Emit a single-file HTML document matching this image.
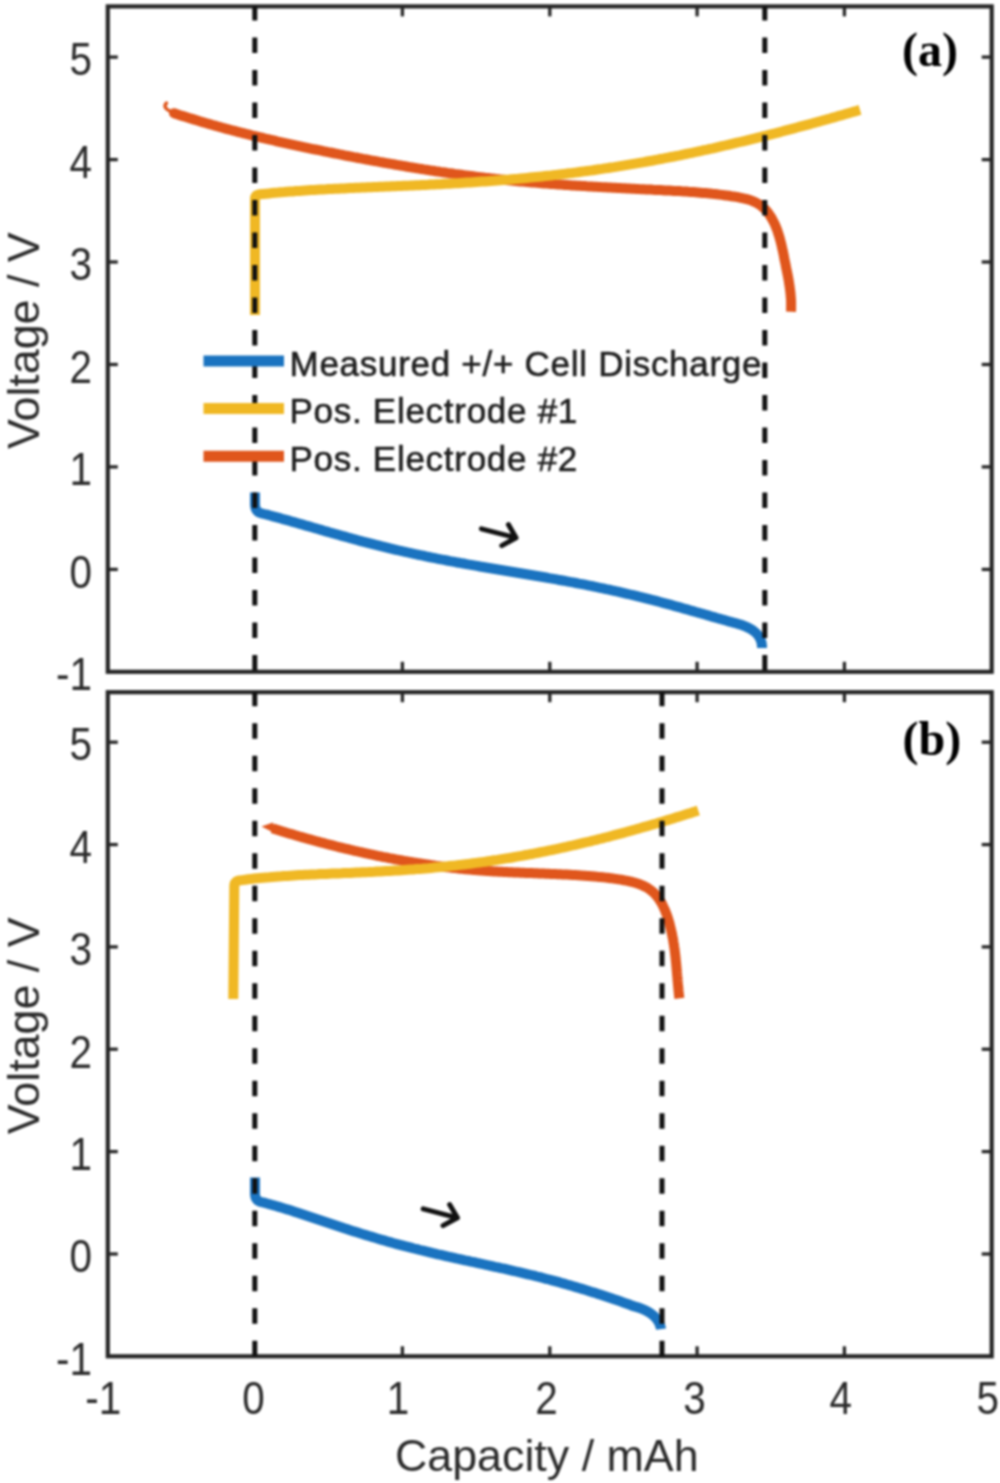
<!DOCTYPE html>
<html><head><meta charset="utf-8"><style>
html,body{margin:0;padding:0;background:#fff;width:1000px;height:1483px;overflow:hidden}
svg{display:block;filter:blur(0.9px)}
.tk{font-family:"Liberation Sans",sans-serif;font-size:40.5px;fill:#2b2b2b}
.lb{font-family:"Liberation Sans",sans-serif;font-size:44.8px;fill:#2b2b2b}
.lg{font-family:"Liberation Sans",sans-serif;font-size:35px;letter-spacing:0.72px;fill:#1e1e1e;stroke:#1e1e1e;stroke-width:0.6px}
.pl{font-family:"Liberation Serif",serif;font-size:48px;font-weight:bold;fill:#000}
</style></head><body>
<svg width="1000" height="1483" viewBox="0 0 1000 1483">
<rect width="1000" height="1483" fill="#fff"/>
<rect x="107.8" y="6.4" width="883.9" height="665.4" fill="none" stroke="#262626" stroke-width="4.2"/>
<line x1="255.1" y1="671.8" x2="255.1" y2="661.8" stroke="#262626" stroke-width="3.3"/>
<line x1="255.1" y1="6.4" x2="255.1" y2="16.4" stroke="#262626" stroke-width="3.3"/>
<line x1="402.4" y1="671.8" x2="402.4" y2="661.8" stroke="#262626" stroke-width="3.3"/>
<line x1="402.4" y1="6.4" x2="402.4" y2="16.4" stroke="#262626" stroke-width="3.3"/>
<line x1="549.8" y1="671.8" x2="549.8" y2="661.8" stroke="#262626" stroke-width="3.3"/>
<line x1="549.8" y1="6.4" x2="549.8" y2="16.4" stroke="#262626" stroke-width="3.3"/>
<line x1="697.1" y1="671.8" x2="697.1" y2="661.8" stroke="#262626" stroke-width="3.3"/>
<line x1="697.1" y1="6.4" x2="697.1" y2="16.4" stroke="#262626" stroke-width="3.3"/>
<line x1="844.4" y1="671.8" x2="844.4" y2="661.8" stroke="#262626" stroke-width="3.3"/>
<line x1="844.4" y1="6.4" x2="844.4" y2="16.4" stroke="#262626" stroke-width="3.3"/>
<line x1="107.8" y1="569.4" x2="117.8" y2="569.4" stroke="#262626" stroke-width="3.3"/>
<line x1="991.7" y1="569.4" x2="981.7" y2="569.4" stroke="#262626" stroke-width="3.3"/>
<line x1="107.8" y1="466.9" x2="117.8" y2="466.9" stroke="#262626" stroke-width="3.3"/>
<line x1="991.7" y1="466.9" x2="981.7" y2="466.9" stroke="#262626" stroke-width="3.3"/>
<line x1="107.8" y1="364.5" x2="117.8" y2="364.5" stroke="#262626" stroke-width="3.3"/>
<line x1="991.7" y1="364.5" x2="981.7" y2="364.5" stroke="#262626" stroke-width="3.3"/>
<line x1="107.8" y1="262.0" x2="117.8" y2="262.0" stroke="#262626" stroke-width="3.3"/>
<line x1="991.7" y1="262.0" x2="981.7" y2="262.0" stroke="#262626" stroke-width="3.3"/>
<line x1="107.8" y1="159.6" x2="117.8" y2="159.6" stroke="#262626" stroke-width="3.3"/>
<line x1="991.7" y1="159.6" x2="981.7" y2="159.6" stroke="#262626" stroke-width="3.3"/>
<line x1="107.8" y1="57.1" x2="117.8" y2="57.1" stroke="#262626" stroke-width="3.3"/>
<line x1="991.7" y1="57.1" x2="981.7" y2="57.1" stroke="#262626" stroke-width="3.3"/>
<text transform="translate(92,690.0) scale(1,1.12)" text-anchor="end" class="tk">-1</text>
<text transform="translate(92,587.6) scale(1,1.12)" text-anchor="end" class="tk">0</text>
<text transform="translate(92,485.1) scale(1,1.12)" text-anchor="end" class="tk">1</text>
<text transform="translate(92,382.7) scale(1,1.12)" text-anchor="end" class="tk">2</text>
<text transform="translate(92,280.2) scale(1,1.12)" text-anchor="end" class="tk">3</text>
<text transform="translate(92,177.8) scale(1,1.12)" text-anchor="end" class="tk">4</text>
<text transform="translate(92,75.3) scale(1,1.12)" text-anchor="end" class="tk">5</text>
<text transform="translate(38.5,340.6) rotate(-90)" text-anchor="middle" class="lb">Voltage / V</text>
<path d="M174.0,113.2 L176.2,113.9 L178.5,114.7 L180.7,115.4 L183.0,116.1 L185.3,116.8 L187.5,117.5 L189.8,118.2 L192.1,118.9 L194.4,119.6 L196.6,120.3 L198.9,121.0 L201.2,121.7 L203.5,122.4 L205.7,123.0 L208.0,123.7 L210.3,124.3 L212.6,125.0 L214.9,125.6 L217.2,126.3 L219.4,126.9 L221.7,127.5 L224.0,128.2 L226.3,128.8 L228.6,129.4 L230.9,130.0 L233.2,130.6 L235.5,131.2 L237.8,131.8 L240.1,132.4 L242.4,133.0 L244.7,133.5 L247.0,134.1 L249.3,134.7 L251.6,135.3 L253.9,135.8 L256.2,136.4 L258.5,136.9 L260.8,137.5 L263.1,138.0 L265.4,138.6 L267.8,139.1 L270.1,139.7 L272.4,140.2 L274.7,140.7 L277.0,141.3 L279.3,141.8 L281.6,142.3 L284.0,142.8 L286.3,143.3 L288.6,143.8 L290.9,144.3 L293.2,144.8 L295.6,145.3 L297.9,145.8 L300.2,146.3 L302.5,146.8 L304.8,147.3 L307.2,147.8 L309.5,148.3 L311.8,148.8 L314.1,149.3 L316.5,149.7 L318.8,150.2 L321.1,150.7 L323.4,151.2 L325.8,151.6 L328.1,152.1 L330.4,152.5 L332.8,153.0 L335.1,153.5 L337.4,153.9 L339.7,154.4 L342.1,154.8 L344.4,155.3 L346.7,155.8 L349.1,156.2 L351.4,156.6 L353.7,157.1 L356.1,157.5 L358.4,158.0 L360.7,158.4 L363.1,158.9 L365.4,159.3 L367.7,159.7 L370.1,160.2 L372.4,160.6 L374.7,161.0 L377.1,161.4 L379.4,161.9 L381.8,162.3 L384.1,162.7 L386.4,163.1 L388.8,163.5 L391.1,163.9 L393.4,164.3 L395.8,164.7 L398.1,165.1 L400.5,165.5 L402.8,165.9 L405.1,166.3 L407.5,166.7 L409.8,167.1 L412.2,167.5 L414.5,167.9 L416.9,168.3 L419.2,168.6 L421.5,169.0 L423.9,169.4 L426.2,169.7 L428.6,170.1 L430.9,170.5 L433.3,170.8 L435.6,171.2 L438.0,171.5 L440.3,171.9 L442.7,172.2 L445.0,172.5 L447.4,172.9 L449.7,173.2 L452.1,173.5 L454.4,173.9 L456.8,174.2 L459.1,174.5 L461.5,174.8 L463.8,175.1 L466.2,175.4 L468.5,175.7 L470.9,176.0 L473.2,176.3 L475.6,176.6 L478.0,176.9 L480.3,177.2 L482.7,177.5 L485.0,177.8 L487.4,178.0 L489.7,178.3 L492.1,178.6 L494.5,178.8 L496.8,179.1 L499.2,179.3 L501.5,179.6 L503.9,179.8 L506.3,180.0 L508.6,180.3 L511.0,180.5 L513.4,180.7 L515.7,181.0 L518.1,181.2 L520.4,181.4 L522.8,181.6 L525.2,181.8 L527.5,182.0 L529.9,182.2 L532.3,182.4 L534.6,182.6 L537.0,182.8 L539.4,183.0 L541.7,183.2 L544.1,183.4 L546.5,183.6 L548.9,183.7 L551.2,183.9 L553.6,184.1 L556.0,184.3 L558.3,184.4 L560.7,184.6 L563.1,184.7 L565.4,184.9 L567.8,185.1 L570.2,185.2 L572.5,185.4 L574.9,185.5 L577.3,185.7 L579.7,185.8 L582.0,186.0 L584.4,186.1 L586.8,186.3 L589.1,186.4 L591.5,186.5 L593.9,186.7 L596.3,186.8 L598.6,186.9 L601.0,187.1 L603.4,187.2 L605.7,187.3 L608.1,187.5 L610.5,187.6 L612.8,187.7 L615.2,187.8 L617.6,188.0 L620.0,188.1 L622.3,188.2 L624.7,188.3 L627.1,188.5 L629.4,188.6 L631.8,188.7 L634.2,188.8 L636.5,188.9 L638.9,189.1 L641.3,189.2 L643.6,189.3 L646.0,189.4 L648.4,189.5 L650.7,189.6 L653.1,189.8 L655.5,189.9 L657.8,190.0 L660.2,190.1 L662.6,190.2 L664.9,190.4 L667.3,190.5 L669.7,190.6 L672.0,190.7 L674.4,190.9 L676.8,191.0 L679.1,191.1 L681.5,191.3 L683.9,191.4 L686.2,191.6 L688.6,191.8 L691.0,191.9 L693.3,192.1 L695.7,192.3 L698.1,192.5 L700.4,192.7 L702.8,192.9 L705.2,193.1 L707.6,193.3 L709.9,193.5 L712.3,193.8 L714.7,194.0 L717.1,194.3 L719.5,194.6 L721.9,194.9 L724.3,195.2 L726.6,195.5 L729.0,195.8 L731.4,196.2 L733.8,196.5 L736.2,196.9 L738.6,197.3 L741.0,197.8 L743.3,198.3 L745.6,198.8 L747.9,199.4 L750.1,200.1 L752.2,200.9 L754.3,201.8 L756.4,202.8 L758.3,203.8 L760.2,205.1 L761.9,206.4 L763.6,207.9 L765.2,209.4 L766.7,211.1 L768.1,212.8 L769.4,214.7 L770.7,216.6 L771.9,218.6 L773.0,220.7 L774.1,222.8 L775.1,224.9 L776.0,227.1 L776.9,229.4 L777.7,231.7 L778.4,234.0 L779.2,236.3 L779.8,238.7 L780.5,241.1 L781.1,243.5 L781.7,245.9 L782.2,248.4 L782.8,250.8 L783.3,253.2 L783.8,255.6 L784.2,258.0 L784.7,260.4 L785.2,262.8 L785.7,265.1 L786.1,267.5 L786.6,269.8 L787.1,272.1 L787.5,274.3 L788.0,276.6 L788.4,278.9 L788.8,281.1 L789.1,283.4 L789.5,285.7 L789.8,287.9 L790.1,290.2 L790.4,292.5 L790.6,294.8 L790.8,297.2 L791.0,299.5 L791.1,301.9 L791.1,304.3 L791.1,306.7 L791.1,309.2 L791.0,311.7" fill="none" stroke="#e0561c" stroke-width="10" stroke-linecap="butt" stroke-linejoin="round"/>
<circle cx="174.0" cy="113.2" r="5.0" fill="#e0561c"/>
<path d="M171,111.5 C165,109 163.5,106 166.5,103" fill="none" stroke="#e0561c" stroke-width="3.5" stroke-linecap="round"/>
<path d="M255.0,315.0 L255.0,198.5 L255.1,197.6 L255.3,196.9 L255.7,196.2 L256.2,195.6 L257.0,195.1 L257.8,194.8 L258.8,194.5 L260.0,194.3 L263.0,194.0 L266.0,193.7 L269.0,193.4 L272.0,193.1 L275.0,192.8 L278.0,192.6 L281.0,192.3 L284.0,192.1 L287.0,191.8 L290.0,191.6 L293.0,191.4 L296.0,191.1 L299.0,190.9 L302.0,190.7 L305.0,190.5 L308.0,190.3 L311.0,190.1 L314.0,190.0 L317.0,189.8 L320.0,189.6 L323.0,189.4 L326.0,189.3 L329.0,189.1 L332.0,189.0 L335.0,188.8 L338.0,188.7 L341.0,188.5 L344.0,188.4 L347.0,188.2 L350.0,188.1 L353.0,188.0 L356.0,187.8 L359.0,187.7 L362.0,187.6 L365.0,187.5 L368.0,187.3 L371.0,187.2 L374.0,187.1 L377.0,187.0 L380.0,186.8 L383.0,186.7 L386.0,186.6 L389.0,186.5 L392.0,186.3 L395.0,186.2 L398.0,186.1 L401.0,186.0 L404.0,185.8 L407.0,185.7 L410.0,185.6 L413.0,185.4 L416.0,185.3 L419.0,185.2 L422.0,185.0 L425.0,184.9 L428.0,184.8 L431.0,184.6 L434.0,184.5 L437.0,184.3 L440.0,184.2 L443.0,184.0 L446.0,183.8 L449.0,183.7 L452.0,183.5 L455.0,183.3 L458.0,183.2 L461.0,183.0 L464.0,182.8 L467.0,182.6 L470.0,182.4 L473.0,182.2 L476.0,182.0 L479.0,181.8 L482.0,181.6 L485.0,181.4 L488.0,181.2 L491.0,181.0 L494.0,180.8 L497.0,180.5 L500.0,180.3 L503.0,180.1 L506.0,179.8 L509.0,179.6 L512.0,179.3 L515.0,179.0 L518.0,178.8 L521.0,178.5 L524.0,178.2 L527.0,177.9 L530.0,177.6 L533.0,177.3 L536.0,177.0 L539.0,176.7 L542.0,176.4 L545.0,176.1 L548.0,175.8 L551.0,175.5 L554.0,175.1 L557.0,174.8 L560.0,174.4 L563.0,174.1 L566.0,173.7 L569.0,173.3 L572.0,173.0 L575.0,172.6 L578.0,172.2 L581.0,171.8 L584.0,171.4 L587.0,171.0 L590.0,170.6 L593.0,170.2 L596.0,169.7 L599.0,169.3 L602.0,168.9 L605.0,168.4 L608.0,168.0 L611.0,167.5 L614.0,167.1 L617.0,166.6 L620.0,166.1 L623.0,165.6 L626.0,165.1 L629.0,164.6 L632.0,164.1 L635.0,163.6 L638.0,163.1 L641.0,162.6 L644.0,162.1 L647.0,161.5 L650.0,161.0 L653.0,160.5 L656.0,159.9 L659.0,159.3 L662.0,158.8 L665.0,158.2 L668.0,157.6 L671.0,157.0 L674.0,156.5 L677.0,155.9 L680.0,155.3 L683.0,154.6 L686.0,154.0 L689.0,153.4 L692.0,152.8 L695.0,152.2 L698.0,151.5 L701.0,150.9 L704.0,150.2 L707.0,149.6 L710.0,148.9 L713.0,148.3 L716.0,147.6 L719.0,146.9 L722.0,146.2 L725.0,145.5 L728.0,144.8 L731.0,144.1 L734.0,143.4 L737.0,142.7 L740.0,142.0 L743.0,141.3 L746.0,140.6 L749.0,139.8 L752.0,139.1 L755.0,138.4 L758.0,137.6 L761.0,136.9 L764.0,136.1 L767.0,135.4 L770.0,134.6 L773.0,133.8 L776.0,133.1 L779.0,132.3 L782.0,131.5 L785.0,130.7 L788.0,129.9 L791.0,129.1 L794.0,128.3 L797.0,127.5 L800.0,126.7 L803.0,125.9 L806.0,125.1 L809.0,124.3 L812.0,123.5 L815.0,122.7 L818.0,121.8 L821.0,121.0 L824.0,120.2 L827.0,119.3 L830.0,118.5 L833.0,117.6 L836.0,116.8 L839.0,115.9 L842.0,115.1 L845.0,114.2 L848.0,113.4 L851.0,112.5 L854.0,111.6 L857.0,110.8 L860.0,109.9" fill="none" stroke="#f0b824" stroke-width="10" stroke-linecap="butt" stroke-linejoin="round"/>
<path d="M255.0,492.5 L255.0,504.0 L255.1,505.8 L255.4,507.5 L255.8,508.9 L256.5,510.2 L257.3,511.2 L258.4,512.1 L259.6,512.8 L261.0,513.2 L264.0,514.0 L267.0,514.7 L270.0,515.5 L273.0,516.3 L276.0,517.1 L279.0,517.9 L282.0,518.8 L285.0,519.6 L288.0,520.4 L291.0,521.3 L294.0,522.1 L297.0,523.0 L300.0,523.9 L303.0,524.7 L306.0,525.6 L309.0,526.4 L312.0,527.3 L315.0,528.2 L318.0,529.0 L321.0,529.9 L324.0,530.8 L327.0,531.6 L330.0,532.5 L333.0,533.3 L336.0,534.2 L339.0,535.0 L342.0,535.9 L345.0,536.7 L348.0,537.5 L351.0,538.3 L354.0,539.2 L357.0,540.0 L360.0,540.8 L363.0,541.6 L366.0,542.3 L369.0,543.1 L372.0,543.9 L375.0,544.7 L378.0,545.4 L381.0,546.2 L384.0,546.9 L387.0,547.6 L390.0,548.4 L393.0,549.1 L396.0,549.8 L399.0,550.5 L402.0,551.2 L405.0,551.8 L408.0,552.5 L411.0,553.2 L414.0,553.8 L417.0,554.5 L420.0,555.1 L423.0,555.7 L426.0,556.4 L429.0,557.0 L432.0,557.6 L435.0,558.2 L438.0,558.8 L441.0,559.4 L444.0,559.9 L447.0,560.5 L450.0,561.1 L453.0,561.6 L456.0,562.2 L459.0,562.7 L462.0,563.3 L465.0,563.8 L468.0,564.4 L471.0,564.9 L474.0,565.4 L477.0,565.9 L480.0,566.5 L483.0,567.0 L486.0,567.5 L489.0,568.0 L492.0,568.5 L495.0,569.0 L498.0,569.5 L501.0,570.0 L504.0,570.5 L507.0,571.0 L510.0,571.5 L513.0,572.0 L516.0,572.5 L519.0,573.0 L522.0,573.5 L525.0,574.0 L528.0,574.5 L531.0,575.0 L534.0,575.5 L537.0,576.0 L540.0,576.5 L543.0,577.0 L546.0,577.5 L549.0,578.1 L552.0,578.6 L555.0,579.1 L558.0,579.7 L561.0,580.2 L564.0,580.7 L567.0,581.3 L570.0,581.9 L573.0,582.4 L576.0,583.0 L579.0,583.6 L582.0,584.1 L585.0,584.7 L588.0,585.3 L591.0,585.9 L594.0,586.5 L597.0,587.2 L600.0,587.8 L603.0,588.4 L606.0,589.1 L609.0,589.7 L612.0,590.4 L615.0,591.0 L618.0,591.7 L621.0,592.4 L624.0,593.1 L627.0,593.8 L630.0,594.5 L633.0,595.2 L636.0,595.9 L639.0,596.7 L642.0,597.4 L645.0,598.1 L648.0,598.9 L651.0,599.7 L654.0,600.4 L657.0,601.2 L660.0,602.0 L663.0,602.8 L666.0,603.6 L669.0,604.4 L672.0,605.2 L675.0,606.1 L678.0,606.9 L681.0,607.7 L684.0,608.6 L687.0,609.4 L690.0,610.3 L693.0,611.1 L696.0,612.0 L699.0,612.8 L702.0,613.7 L705.0,614.5 L708.0,615.4 L711.0,616.3 L714.0,617.1 L717.0,618.0 L720.0,618.8 L723.0,619.7 L726.0,620.5 L729.1,621.5 L729.8,621.7 L730.5,621.8 L731.2,622.0 L732.0,622.2 L732.7,622.4 L733.4,622.6 L734.2,622.8 L734.9,623.0 L735.7,623.2 L736.5,623.4 L737.2,623.6 L738.0,623.8 L738.8,624.0 L739.5,624.3 L740.3,624.5 L741.1,624.8 L741.8,625.0 L742.6,625.3 L743.3,625.6 L744.1,625.8 L744.8,626.1 L745.6,626.4 L746.3,626.8 L747.0,627.1 L747.7,627.4 L748.4,627.8 L749.1,628.1 L749.8,628.5 L750.5,628.9 L751.2,629.3 L751.8,629.7 L752.5,630.1 L753.1,630.6 L753.7,631.0 L754.3,631.5 L754.9,632.0 L755.5,632.5 L756.0,633.0 L756.5,633.5 L757.0,634.0 L757.5,634.6 L758.0,635.2 L758.4,635.8 L758.9,636.4 L759.3,637.0 L759.6,637.7 L760.0,638.4 L760.3,639.0 L760.6,639.8 L760.9,640.5 L761.1,641.2 L761.4,642.0 L761.5,642.8 L761.7,643.6 L761.8,644.4 L761.9,645.3 L762.0,646.2 L762.0,647.1 L762.0,648.0" fill="none" stroke="#1a73c0" stroke-width="10" stroke-linecap="butt" stroke-linejoin="round"/>
<line x1="254.8" y1="6.4" x2="254.8" y2="671.8" stroke="#111" stroke-width="5" stroke-dasharray="15.5 17" stroke-dashoffset="1.5"/>
<line x1="764.8" y1="6.4" x2="764.8" y2="671.8" stroke="#111" stroke-width="5" stroke-dasharray="15.5 17" stroke-dashoffset="1.5"/>
<path d="M481.4,528.8 L516,537.8 M508.4,524.6 L516,537.8 L501.8,545.6" fill="none" stroke="#111" stroke-width="5" stroke-linecap="round" stroke-linejoin="round"/>
<line x1="203.5" y1="361.0" x2="284" y2="361.0" stroke="#1a73c0" stroke-width="11"/>
<text x="289.5" y="375.8" class="lg">Measured +/+ Cell Discharge</text>
<line x1="203.5" y1="408.6" x2="284" y2="408.6" stroke="#f0b824" stroke-width="11"/>
<text x="289.5" y="423.4" class="lg">Pos. Electrode #1</text>
<line x1="203.5" y1="456.2" x2="284" y2="456.2" stroke="#e0561c" stroke-width="11"/>
<text x="289.5" y="471.0" class="lg">Pos. Electrode #2</text>
<text x="902" y="65.5" class="pl">(a)</text>
<rect x="107.8" y="692.2" width="883.9" height="664.1" fill="none" stroke="#262626" stroke-width="4.2"/>
<line x1="255.1" y1="1356.3" x2="255.1" y2="1346.3" stroke="#262626" stroke-width="3.3"/>
<line x1="255.1" y1="692.2" x2="255.1" y2="702.2" stroke="#262626" stroke-width="3.3"/>
<line x1="402.4" y1="1356.3" x2="402.4" y2="1346.3" stroke="#262626" stroke-width="3.3"/>
<line x1="402.4" y1="692.2" x2="402.4" y2="702.2" stroke="#262626" stroke-width="3.3"/>
<line x1="549.8" y1="1356.3" x2="549.8" y2="1346.3" stroke="#262626" stroke-width="3.3"/>
<line x1="549.8" y1="692.2" x2="549.8" y2="702.2" stroke="#262626" stroke-width="3.3"/>
<line x1="697.1" y1="1356.3" x2="697.1" y2="1346.3" stroke="#262626" stroke-width="3.3"/>
<line x1="697.1" y1="692.2" x2="697.1" y2="702.2" stroke="#262626" stroke-width="3.3"/>
<line x1="844.4" y1="1356.3" x2="844.4" y2="1346.3" stroke="#262626" stroke-width="3.3"/>
<line x1="844.4" y1="692.2" x2="844.4" y2="702.2" stroke="#262626" stroke-width="3.3"/>
<line x1="107.8" y1="1254.0" x2="117.8" y2="1254.0" stroke="#262626" stroke-width="3.3"/>
<line x1="991.7" y1="1254.0" x2="981.7" y2="1254.0" stroke="#262626" stroke-width="3.3"/>
<line x1="107.8" y1="1151.6" x2="117.8" y2="1151.6" stroke="#262626" stroke-width="3.3"/>
<line x1="991.7" y1="1151.6" x2="981.7" y2="1151.6" stroke="#262626" stroke-width="3.3"/>
<line x1="107.8" y1="1049.2" x2="117.8" y2="1049.2" stroke="#262626" stroke-width="3.3"/>
<line x1="991.7" y1="1049.2" x2="981.7" y2="1049.2" stroke="#262626" stroke-width="3.3"/>
<line x1="107.8" y1="946.9" x2="117.8" y2="946.9" stroke="#262626" stroke-width="3.3"/>
<line x1="991.7" y1="946.9" x2="981.7" y2="946.9" stroke="#262626" stroke-width="3.3"/>
<line x1="107.8" y1="844.6" x2="117.8" y2="844.6" stroke="#262626" stroke-width="3.3"/>
<line x1="991.7" y1="844.6" x2="981.7" y2="844.6" stroke="#262626" stroke-width="3.3"/>
<line x1="107.8" y1="742.2" x2="117.8" y2="742.2" stroke="#262626" stroke-width="3.3"/>
<line x1="991.7" y1="742.2" x2="981.7" y2="742.2" stroke="#262626" stroke-width="3.3"/>
<text transform="translate(92,1374.5) scale(1,1.12)" text-anchor="end" class="tk">-1</text>
<text transform="translate(92,1272.2) scale(1,1.12)" text-anchor="end" class="tk">0</text>
<text transform="translate(92,1169.8) scale(1,1.12)" text-anchor="end" class="tk">1</text>
<text transform="translate(92,1067.5) scale(1,1.12)" text-anchor="end" class="tk">2</text>
<text transform="translate(92,965.1) scale(1,1.12)" text-anchor="end" class="tk">3</text>
<text transform="translate(92,862.8) scale(1,1.12)" text-anchor="end" class="tk">4</text>
<text transform="translate(92,760.4) scale(1,1.12)" text-anchor="end" class="tk">5</text>
<text transform="translate(38.5,1025.8) rotate(-90)" text-anchor="middle" class="lb">Voltage / V</text>
<path d="M272.2,828.3 L273.8,828.8 L275.4,829.3 L277.0,829.8 L278.6,830.3 L280.2,830.8 L281.8,831.3 L283.4,831.7 L285.0,832.2 L286.6,832.7 L288.2,833.2 L289.8,833.7 L291.4,834.1 L293.0,834.6 L294.6,835.1 L296.2,835.5 L297.8,836.0 L299.4,836.5 L301.0,836.9 L302.7,837.4 L304.3,837.8 L305.9,838.3 L307.5,838.7 L309.1,839.2 L310.7,839.6 L312.3,840.1 L314.0,840.5 L315.6,841.0 L317.2,841.4 L318.8,841.8 L320.4,842.3 L322.0,842.7 L323.7,843.1 L325.3,843.6 L326.9,844.0 L328.5,844.4 L330.2,844.8 L331.8,845.2 L333.4,845.6 L335.0,846.0 L336.7,846.5 L338.3,846.9 L339.9,847.3 L341.5,847.7 L343.2,848.1 L344.8,848.5 L346.4,848.8 L348.1,849.2 L349.7,849.6 L351.3,850.0 L353.0,850.4 L354.6,850.8 L356.2,851.1 L357.9,851.5 L359.5,851.9 L361.1,852.2 L362.8,852.6 L364.4,853.0 L366.1,853.3 L367.7,853.7 L369.3,854.0 L371.0,854.4 L372.6,854.7 L374.3,855.1 L375.9,855.4 L377.5,855.8 L379.2,856.1 L380.8,856.4 L382.5,856.8 L384.1,857.1 L385.8,857.4 L387.4,857.7 L389.0,858.1 L390.7,858.4 L392.3,858.7 L394.0,859.0 L395.6,859.3 L397.3,859.6 L398.9,859.9 L400.6,860.2 L402.2,860.5 L403.9,860.8 L405.5,861.1 L407.2,861.3 L408.8,861.6 L410.5,861.9 L412.1,862.2 L413.8,862.5 L415.5,862.7 L417.1,863.0 L418.8,863.2 L420.4,863.5 L422.1,863.8 L423.7,864.0 L425.4,864.3 L427.0,864.5 L428.7,864.7 L430.4,865.0 L432.0,865.2 L433.7,865.4 L435.3,865.7 L437.0,865.9 L438.7,866.1 L440.3,866.3 L442.0,866.6 L443.6,866.8 L445.3,867.0 L447.0,867.2 L448.6,867.4 L450.3,867.6 L451.9,867.8 L453.6,868.0 L455.3,868.1 L456.9,868.3 L458.6,868.5 L460.3,868.7 L461.9,868.8 L463.6,869.0 L465.3,869.2 L466.9,869.3 L468.6,869.5 L470.3,869.6 L471.9,869.8 L473.6,869.9 L475.3,870.1 L476.9,870.2 L478.6,870.3 L480.3,870.5 L481.9,870.6 L483.6,870.7 L485.3,870.8 L487.0,871.0 L488.6,871.1 L490.3,871.2 L492.0,871.3 L493.6,871.4 L495.3,871.5 L497.0,871.6 L498.7,871.7 L500.3,871.8 L502.0,871.8 L503.7,871.9 L505.3,872.0 L507.0,872.1 L508.7,872.2 L510.4,872.3 L512.0,872.3 L513.7,872.4 L515.4,872.5 L517.1,872.5 L518.7,872.6 L520.4,872.7 L522.1,872.8 L523.8,872.8 L525.4,872.9 L527.1,873.0 L528.8,873.0 L530.5,873.1 L532.1,873.1 L533.8,873.2 L535.5,873.3 L537.2,873.3 L538.8,873.4 L540.5,873.5 L542.2,873.5 L543.9,873.6 L545.5,873.7 L547.2,873.7 L548.9,873.8 L550.6,873.9 L552.2,873.9 L553.9,874.0 L555.6,874.1 L557.3,874.2 L558.9,874.2 L560.6,874.3 L562.3,874.4 L564.0,874.5 L565.6,874.6 L567.3,874.6 L569.0,874.7 L570.7,874.8 L572.3,874.9 L574.0,875.0 L575.7,875.1 L577.4,875.2 L579.0,875.3 L580.7,875.4 L582.4,875.6 L584.1,875.7 L585.7,875.8 L587.4,875.9 L589.1,876.0 L590.8,876.2 L592.4,876.3 L594.1,876.5 L595.8,876.6 L597.5,876.8 L599.1,876.9 L600.8,877.1 L602.5,877.2 L604.2,877.4 L605.8,877.6 L607.5,877.8 L609.2,878.0 L610.9,878.2 L612.6,878.4 L614.2,878.7 L615.9,878.9 L617.6,879.2 L619.3,879.4 L621.0,879.7 L622.7,880.0 L624.4,880.3 L626.0,880.6 L627.7,880.9 L629.4,881.3 L631.0,881.7 L632.7,882.1 L634.3,882.5 L635.9,883.0 L637.5,883.5 L639.0,884.0 L640.5,884.6 L642.0,885.2 L643.5,885.9 L645.0,886.6 L646.4,887.3 L647.7,888.1 L649.0,889.0 L650.3,889.9 L651.5,890.8 L652.7,891.8 L653.9,892.9 L655.0,894.0 L656.0,895.2 L657.0,896.4 L658.0,897.7 L658.9,899.0 L659.8,900.3 L660.7,901.7 L661.5,903.1 L662.3,904.5 L663.0,906.0 L663.7,907.5 L664.4,909.0 L665.1,910.6 L665.7,912.2 L666.3,913.7 L666.9,915.3 L667.5,917.0 L668.0,918.6 L668.5,920.2 L669.0,921.8 L669.5,923.5 L669.9,925.1 L670.3,926.8 L670.7,928.5 L671.1,930.1 L671.5,931.8 L671.9,933.5 L672.2,935.1 L672.5,936.8 L672.9,938.5 L673.2,940.2 L673.4,941.9 L673.7,943.6 L674.0,945.2 L674.2,946.9 L674.5,948.6 L674.7,950.3 L674.9,952.0 L675.1,953.7 L675.3,955.4 L675.5,957.1 L675.7,958.8 L675.8,960.5 L676.0,962.2 L676.2,963.9 L676.3,965.6 L676.5,967.2 L676.6,968.9 L676.8,970.6 L676.9,972.3 L677.1,973.9 L677.2,975.6 L677.4,977.3 L677.5,978.9 L677.6,980.6 L677.8,982.2 L677.9,983.9 L678.1,985.5 L678.2,987.1 L678.4,988.8 L678.5,990.4 L678.7,992.0 L678.8,993.6 L679.0,995.2 L679.2,996.8 L679.4,998.4" fill="none" stroke="#e0561c" stroke-width="10" stroke-linecap="butt" stroke-linejoin="round"/>
<path d="M261.5,826.5 L273,822.5 L273.5,832.5 Z" fill="#e0561c"/>
<path d="M233.3,999.0 L234.3,886.0 L234.4,884.9 L234.6,883.8 L235.0,882.9 L235.6,882.2 L236.3,881.6 L237.1,881.1 L238.1,880.7 L239.3,880.5 L242.3,880.1 L245.3,879.7 L248.3,879.3 L251.3,878.9 L254.3,878.6 L257.3,878.3 L260.3,878.0 L263.3,877.7 L266.3,877.4 L269.3,877.2 L272.3,876.9 L275.3,876.7 L278.3,876.5 L281.3,876.3 L284.3,876.0 L287.3,875.9 L290.3,875.7 L293.3,875.5 L296.3,875.3 L299.3,875.1 L302.3,875.0 L305.3,874.8 L308.3,874.7 L311.3,874.5 L314.3,874.4 L317.3,874.3 L320.3,874.1 L323.3,874.0 L326.3,873.9 L329.3,873.7 L332.3,873.6 L335.3,873.5 L338.3,873.4 L341.3,873.3 L344.3,873.1 L347.3,873.0 L350.3,872.9 L353.3,872.7 L356.3,872.6 L359.3,872.5 L362.3,872.3 L365.3,872.2 L368.3,872.1 L371.3,871.9 L374.3,871.8 L377.3,871.6 L380.3,871.5 L383.3,871.3 L386.3,871.1 L389.3,871.0 L392.3,870.8 L395.3,870.6 L398.3,870.4 L401.3,870.2 L404.3,870.0 L407.3,869.8 L410.3,869.6 L413.3,869.4 L416.3,869.1 L419.3,868.9 L422.3,868.7 L425.3,868.4 L428.3,868.2 L431.3,867.9 L434.3,867.6 L437.3,867.3 L440.3,867.0 L443.3,866.7 L446.3,866.4 L449.3,866.1 L452.3,865.8 L455.3,865.5 L458.3,865.1 L461.3,864.8 L464.3,864.4 L467.3,864.1 L470.3,863.7 L473.3,863.3 L476.3,862.9 L479.3,862.5 L482.3,862.1 L485.3,861.7 L488.3,861.2 L491.3,860.8 L494.3,860.3 L497.3,859.9 L500.3,859.4 L503.3,858.9 L506.3,858.4 L509.3,858.0 L512.3,857.5 L515.3,856.9 L518.3,856.4 L521.3,855.9 L524.3,855.3 L527.3,854.8 L530.3,854.2 L533.3,853.7 L536.3,853.1 L539.3,852.5 L542.3,851.9 L545.3,851.3 L548.3,850.7 L551.3,850.1 L554.3,849.5 L557.3,848.8 L560.3,848.2 L563.3,847.5 L566.3,846.9 L569.3,846.2 L572.3,845.5 L575.3,844.8 L578.3,844.1 L581.3,843.4 L584.3,842.7 L587.3,842.0 L590.3,841.3 L593.3,840.5 L596.3,839.8 L599.3,839.0 L602.3,838.3 L605.3,837.5 L608.3,836.8 L611.3,836.0 L614.3,835.2 L617.3,834.4 L620.3,833.6 L623.3,832.8 L626.3,832.0 L629.3,831.2 L632.3,830.3 L635.3,829.5 L638.3,828.7 L641.3,827.8 L644.3,826.9 L647.3,826.1 L650.3,825.2 L653.3,824.3 L656.3,823.5 L659.3,822.6 L662.3,821.7 L665.3,820.8 L668.3,819.9 L671.3,819.0 L674.3,818.1 L677.3,817.1 L680.3,816.2 L683.3,815.3 L686.3,814.3 L689.3,813.4 L692.3,812.4 L695.3,811.5 L698.3,810.5" fill="none" stroke="#f0b824" stroke-width="10" stroke-linecap="butt" stroke-linejoin="round"/>
<path d="M255.0,1177.5 L255.0,1193.5 L255.1,1195.2 L255.4,1196.7 L255.8,1198.0 L256.5,1199.1 L257.3,1200.1 L258.4,1200.9 L259.6,1201.5 L261.0,1202.0 L264.0,1202.7 L267.0,1203.5 L270.0,1204.3 L273.0,1205.2 L276.0,1206.0 L279.0,1206.9 L282.0,1207.8 L285.0,1208.7 L288.0,1209.6 L291.0,1210.6 L294.0,1211.6 L297.0,1212.5 L300.0,1213.5 L303.0,1214.5 L306.0,1215.5 L309.0,1216.5 L312.0,1217.5 L315.0,1218.5 L318.0,1219.5 L321.0,1220.5 L324.0,1221.5 L327.0,1222.5 L330.0,1223.5 L333.0,1224.5 L336.0,1225.5 L339.0,1226.5 L342.0,1227.5 L345.0,1228.5 L348.0,1229.4 L351.0,1230.4 L354.0,1231.4 L357.0,1232.3 L360.0,1233.3 L363.0,1234.2 L366.0,1235.1 L369.0,1236.0 L372.0,1236.9 L375.0,1237.8 L378.0,1238.7 L381.0,1239.6 L384.0,1240.4 L387.0,1241.3 L390.0,1242.1 L393.0,1243.0 L396.0,1243.8 L399.0,1244.6 L402.0,1245.4 L405.0,1246.2 L408.0,1246.9 L411.0,1247.7 L414.0,1248.5 L417.0,1249.2 L420.0,1250.0 L423.0,1250.7 L426.0,1251.4 L429.0,1252.1 L432.0,1252.9 L435.0,1253.6 L438.0,1254.3 L441.0,1254.9 L444.0,1255.6 L447.0,1256.3 L450.0,1257.0 L453.0,1257.6 L456.0,1258.3 L459.0,1259.0 L462.0,1259.6 L465.0,1260.3 L468.0,1260.9 L471.0,1261.6 L474.0,1262.2 L477.0,1262.9 L480.0,1263.5 L483.0,1264.2 L486.0,1264.8 L489.0,1265.5 L492.0,1266.1 L495.0,1266.8 L498.0,1267.4 L501.0,1268.1 L504.0,1268.7 L507.0,1269.4 L510.0,1270.1 L513.0,1270.8 L516.0,1271.5 L519.0,1272.2 L522.0,1272.9 L525.0,1273.6 L528.0,1274.3 L531.0,1275.0 L534.0,1275.7 L537.0,1276.5 L540.0,1277.2 L543.0,1278.0 L546.0,1278.8 L549.0,1279.5 L552.0,1280.3 L555.0,1281.1 L558.0,1281.9 L561.0,1282.8 L564.0,1283.6 L567.0,1284.5 L570.0,1285.3 L573.0,1286.2 L576.0,1287.1 L579.0,1288.0 L582.0,1288.9 L585.0,1289.8 L588.0,1290.7 L591.0,1291.7 L594.0,1292.6 L597.0,1293.6 L600.0,1294.5 L603.0,1295.5 L606.0,1296.5 L609.0,1297.5 L612.0,1298.5 L615.0,1299.6 L618.0,1300.6 L621.0,1301.6 L624.0,1302.7 L627.0,1303.7 L630.0,1304.8 L633.0,1306.0 L633.6,1306.2 L634.2,1306.3 L634.8,1306.5 L635.5,1306.7 L636.1,1306.9 L636.7,1307.0 L637.3,1307.2 L637.9,1307.4 L638.6,1307.6 L639.2,1307.8 L639.8,1308.1 L640.4,1308.3 L641.0,1308.5 L641.6,1308.7 L642.3,1309.0 L642.9,1309.2 L643.5,1309.5 L644.1,1309.8 L644.7,1310.0 L645.3,1310.3 L645.9,1310.6 L646.4,1310.9 L647.0,1311.2 L647.6,1311.5 L648.2,1311.9 L648.7,1312.2 L649.3,1312.5 L649.8,1312.9 L650.4,1313.2 L650.9,1313.6 L651.4,1314.0 L651.9,1314.4 L652.4,1314.8 L652.9,1315.2 L653.4,1315.6 L653.9,1316.0 L654.3,1316.5 L654.8,1316.9 L655.2,1317.4 L655.7,1317.8 L656.1,1318.3 L656.5,1318.8 L656.9,1319.3 L657.2,1319.8 L657.6,1320.4 L658.0,1320.9 L658.3,1321.5 L658.6,1322.0 L658.9,1322.6 L659.2,1323.2 L659.5,1323.8 L659.7,1324.4 L660.0,1325.0 L660.2,1325.7 L660.4,1326.3 L660.6,1327.0 L660.7,1327.7 L660.9,1328.4 L661.0,1329.1" fill="none" stroke="#1a73c0" stroke-width="10" stroke-linecap="butt" stroke-linejoin="round"/>
<line x1="254.8" y1="692.2" x2="254.8" y2="1356.3" stroke="#111" stroke-width="5" stroke-dasharray="15.5 17" stroke-dashoffset="1.5"/>
<line x1="662" y1="692.2" x2="662" y2="1356.3" stroke="#111" stroke-width="5" stroke-dasharray="15.5 17" stroke-dashoffset="1.5"/>
<path d="M423.2,1208.8 L457.4,1217.8 M449.6,1204.6 L457.4,1217.8 L443,1225.6" fill="none" stroke="#111" stroke-width="5" stroke-linecap="round" stroke-linejoin="round"/>
<text x="902.5" y="754.5" class="pl">(b)</text>
<text transform="translate(103.3,1413.5) scale(1,1.12)" text-anchor="middle" class="tk">-1</text>
<text transform="translate(253.6,1413.5) scale(1,1.12)" text-anchor="middle" class="tk">0</text>
<text transform="translate(397.9,1413.5) scale(1,1.12)" text-anchor="middle" class="tk">1</text>
<text transform="translate(546.6,1413.5) scale(1,1.12)" text-anchor="middle" class="tk">2</text>
<text transform="translate(694.6,1413.5) scale(1,1.12)" text-anchor="middle" class="tk">3</text>
<text transform="translate(840.7,1413.5) scale(1,1.12)" text-anchor="middle" class="tk">4</text>
<text transform="translate(987.7,1413.5) scale(1,1.12)" text-anchor="middle" class="tk">5</text>
<text x="546.8" y="1471" text-anchor="middle" class="lb">Capacity / mAh</text>
</svg>
</body></html>
